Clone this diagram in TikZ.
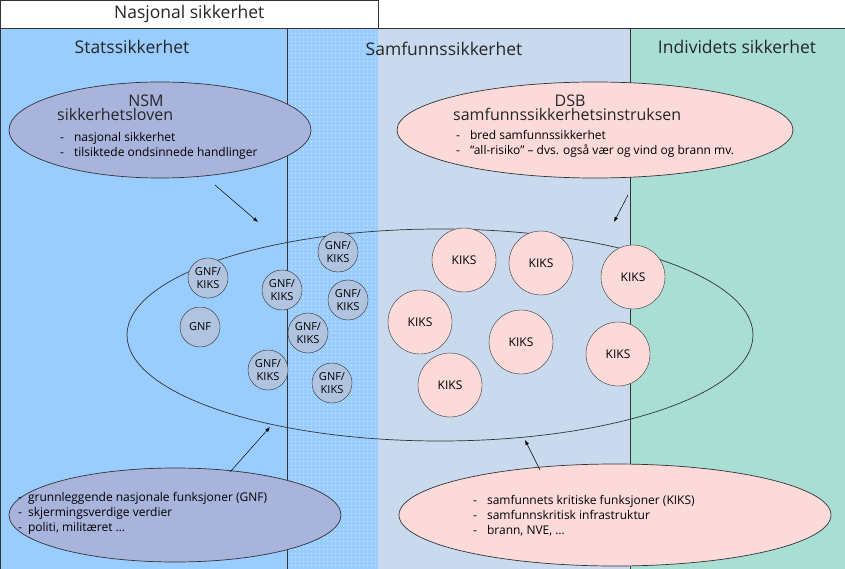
\documentclass[tikz,border=0pt]{standalone}
\usepackage{fontspec}
\setmainfont{Open Sans}
\usetikzlibrary{patterns.meta,arrows.meta}
\definecolor{lb}{HTML}{99CCFF}
\definecolor{sb}{HTML}{C9DAEE}
\definecolor{gr}{HTML}{A9DED4}
\definecolor{nsm}{HTML}{A9B4DD}
\definecolor{pk}{HTML}{FCDADA}
\definecolor{gc}{HTML}{B0C4E0}
\tikzset{
 lbl/.style={font=\fontsize{17.5}{20}\selectfont, text=black!85},
 ttl/.style={font=\fontsize{16}{19}\selectfont, text=black!85, inner sep=0pt},
 ell/.style={draw=black!80, line width=0.7pt},
 gnf/.style={circle, draw=black!80, fill=gc, minimum size=40pt, inner sep=0pt, align=center, font=\fontsize{11}{12.5}\selectfont},
 kiks/.style={circle, draw=black!80, fill=pk, minimum size=64pt, inner sep=0pt, font=\fontsize{12}{14}\selectfont},
 txt/.style={align=left, font=\fontsize{12}{15}\selectfont, inner sep=0pt, anchor=north west},
 arr/.style={-{Latex[length=5pt]}, line width=0.5pt}
}
\begin{document}
\begin{tikzpicture}[x=1pt,y=-1pt]
\useasboundingbox (0,0) rectangle (845,569);
\fill[white] (0,0) rectangle (845,569);
\fill[lb] (0,28) rectangle (378,569);
\fill[sb] (378,28) rectangle (630,569);
\fill[gr] (630,28) rectangle (845,569);
\fill[pattern={Dots[distance=4pt,radius=0.6pt]},pattern color=white!80!lb] (287,28) rectangle (378,569);
\draw[black!80,line width=0.6pt] (0,28) rectangle (845,569);
\draw[black!80,line width=0.6pt] (287,28) -- (287,569) (630,28) -- (630,569);
\node[draw=black!80,line width=0.6pt,fill=white,minimum width=378pt,minimum height=28pt,anchor=north west,inner sep=0pt,lbl] (ns) at (0,0) {Nasjonal sikkerhet};
\node[lbl] (st) at (132,47) {Statssikkerhet};
\node[lbl] (sa) at (444,49) {Samfunnssikkerhet};
\node[lbl] (in) at (737,47) {Individets sikkerhet};
% top ellipses
\draw[ell,fill=nsm] (160,130) ellipse [x radius=151pt, y radius=48pt];
\coordinate (nsmb) at (215,185);
\node[ttl] (nsm) at (146,101) {NSM};
\node[ttl, anchor=north west] (sl) at (57,108) {sikkerhetsloven};
\node[txt] (nt) at (60,132) {-\hspace{10pt}nasjonal sikkerhet\\-\hspace{10pt}tilsiktede ondsinnede handlinger};
\draw[ell,fill=pk] (595,130) ellipse [x radius=198pt, y radius=48pt];
\node[ttl] (dsb) at (570,101) {DSB};
\node[ttl, anchor=north west] (si) at (453,108) {samfunnssikkerhetsinstruksen};
\node[txt] (dt) at (456,130) {-\hspace{10pt}bred samfunnssikkerhet\\-\hspace{10pt}“all-risiko” – dvs. også vær og vind og brann mv.};
% big ellipse
\draw[ell] (440,335) ellipse [x radius=313pt, y radius=106pt];
\coordinate (e1) at (258,222);
\coordinate (e2) at (614,222);
\coordinate (e3) at (270,427);
\coordinate (e4) at (525,440);
\coordinate (dsbb) at (628,195);
% bottom ellipses
\draw[ell,fill=nsm] (175,515) ellipse [x radius=166pt, y radius=47pt];
\coordinate (blt) at (230,472);
\node[txt] (bl) at (18,492) {-\hspace{6pt}grunnleggende nasjonale funksjoner (GNF)\\-\hspace{6pt}skjermingsverdige verdier\\-\hspace{6pt}politi, militæret …};
\draw[ell,fill=pk] (615,515) ellipse [x radius=216pt, y radius=51pt];
\coordinate (brt) at (540,470);
\node[txt] (br) at (473,495) {-\hspace{10pt}samfunnets kritiske funksjoner (KIKS)\\-\hspace{10pt}samfunnskritisk infrastruktur\\-\hspace{10pt}brann, NVE, …};
% arrows
\draw[arr] (nsmb) -- (e1);
\draw[arr] (dsbb) -- (e2);
\draw[arr] (blt) -- (e3);
\draw[arr] (brt) -- (e4);
% circles
\node[gnf] (g1) at (208,278) {GNF/\\KIKS};
\node[gnf] (g2) at (282,290) {GNF/\\KIKS};
\node[gnf] (g3) at (338,252) {GNF/\\KIKS};
\node[gnf] (g4) at (348,300) {GNF/\\KIKS};
\node[gnf] (g5) at (308,333) {GNF/\\KIKS};
\node[gnf] (g6) at (268,370) {GNF/\\KIKS};
\node[gnf] (g7) at (332,383) {GNF/\\KIKS};
\node[gnf] (g8) at (200,327) {GNF};
\node[kiks] (k1) at (464,260) {KIKS};
\node[kiks] (k2) at (541,263) {KIKS};
\node[kiks] (k3) at (633,277) {KIKS};
\node[kiks] (k4) at (420,322) {KIKS};
\node[kiks] (k5) at (521,342) {KIKS};
\node[kiks] (k6) at (618,354) {KIKS};
\node[kiks] (k7) at (450,385) {KIKS};
\end{tikzpicture}
\end{document}
